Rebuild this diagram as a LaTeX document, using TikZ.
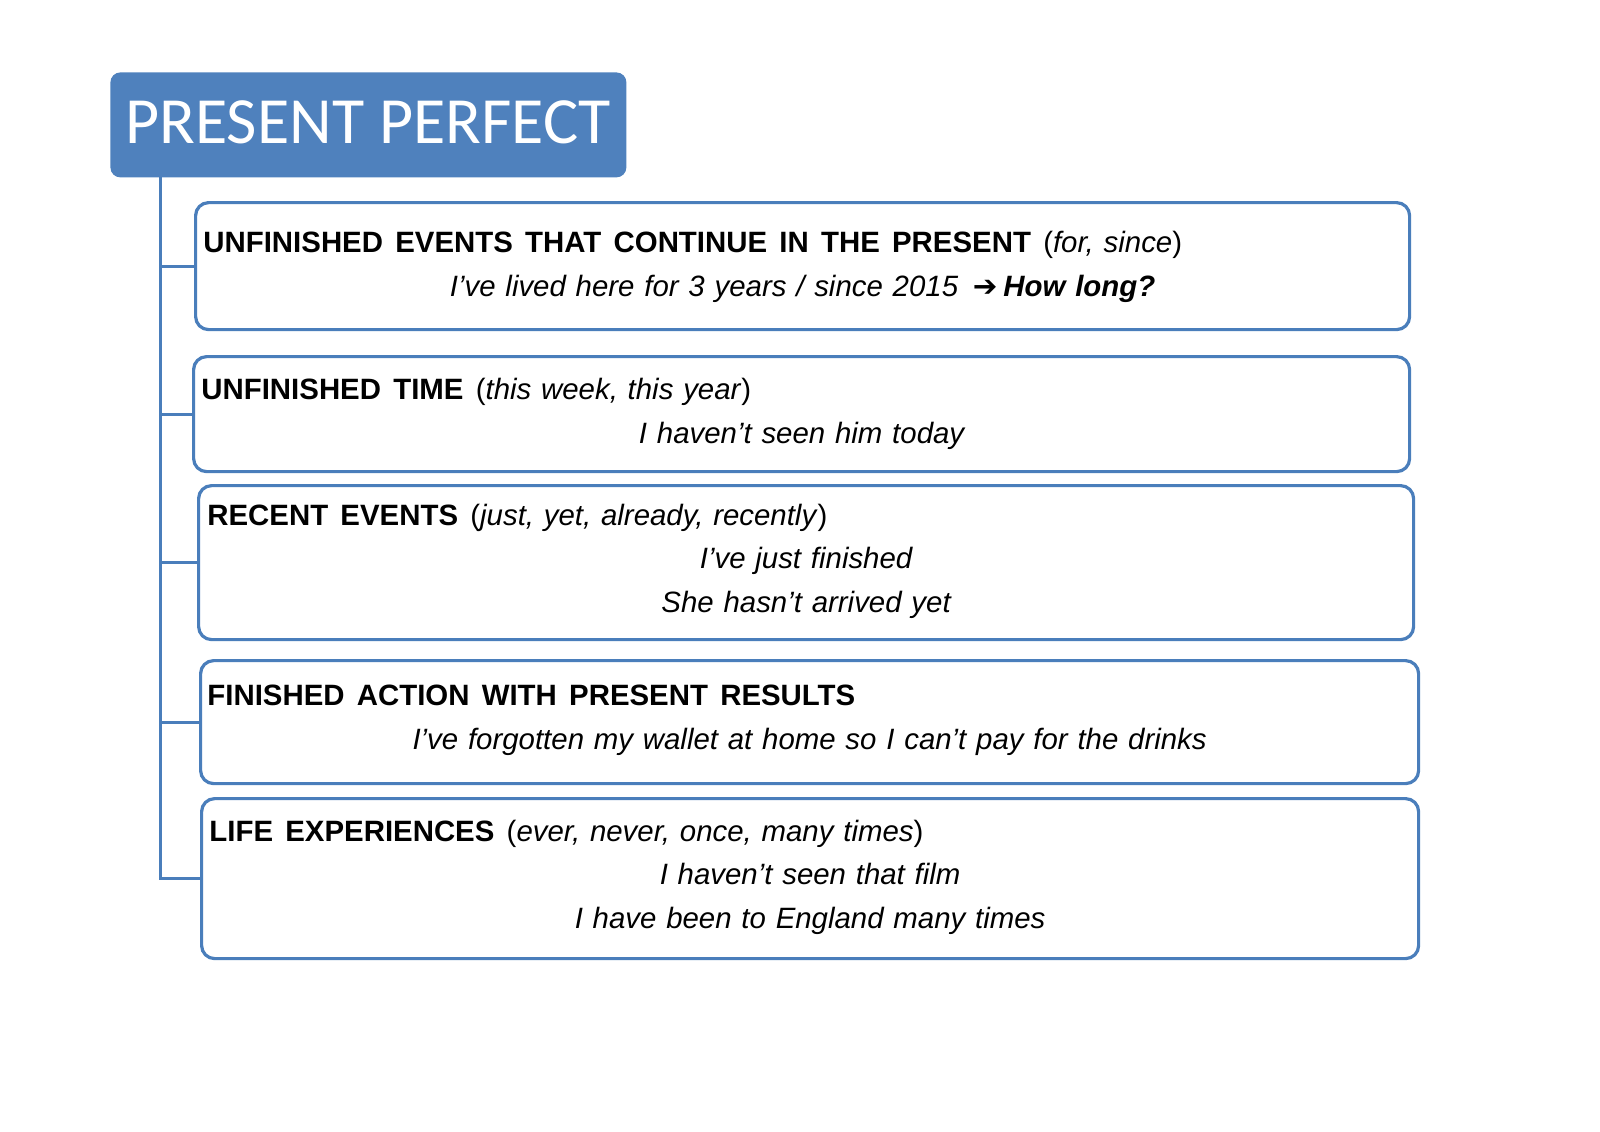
\documentclass[tikz,border=0pt]{standalone}
\usepackage{fontspec}
\setmainfont{Liberation Sans}[WordSpace=1.5, ItalicFeatures={WordSpace=1.2}, BoldItalicFeatures={WordSpace=1.2}]
\newfontfamily\titlefont{Carlito}
\newfontfamily\symfont{DejaVu Sans}
\definecolor{pblue}{HTML}{4F81BD}
\definecolor{bline}{HTML}{4A7EBB}
\tikzset{
  catbox/.style={draw=bline, line width=1.6pt, rounded corners=6.5pt, fill=white, inner sep=0pt, anchor=north west},
  conn/.style={draw=bline, line width=1.5pt},
  head/.style={anchor=base west, inner sep=0pt, font=\fontsize{14.7pt}{16pt}\selectfont},
  example/.style={anchor=base, inner sep=0pt, font=\fontsize{14.7pt}{16pt}\selectfont\itshape},
}
\begin{document}
\begin{tikzpicture}[x=0.5pt, y=-0.5pt]
\useasboundingbox (0,0) rectangle (1600,1131);
% title
\node[fill=pblue, rounded corners=5pt, inner sep=0pt, minimum width=258pt, minimum height=52.5pt, anchor=north west] (title) at (110,72) {};
\node[anchor=base west, inner sep=0pt, text=white, font=\titlefont\fontsize{33pt}{38pt}\selectfont] (titletext) at (125,143) {PRESENT PERFECT};
% boxes
\node[catbox, minimum width=607pt, minimum height=63.5pt] (b1) at (194,201) {};
\node[catbox, minimum width=608pt, minimum height=57.5pt] (b2) at (192,355) {};
\node[catbox, minimum width=607.5pt, minimum height=77pt] (b3) at (197,484) {};
\node[catbox, minimum width=609pt, minimum height=61.5pt] (b4) at (199,659) {};
\node[catbox, minimum width=608.5pt, minimum height=80pt] (b5) at (200,797) {};
% connectors
\coordinate (sp) at (160,177);
\draw[conn] (sp) |- (b5.west);
\draw[conn] (sp |- b1.west) -- (b1.west);
\draw[conn] (sp |- b2.west) -- (b2.west);
\draw[conn] (sp |- b3.west) -- (b3.west);
\draw[conn] (sp |- b4.west) -- (b4.west);
% texts
\node[head] (h1) at (203,252) {\textbf{UNFINISHED EVENTS THAT CONTINUE IN THE PRESENT} (\textit{for, since})};
\node[example] (e1) at (b1.center |- 0,296) {I’ve lived here for 3 years / since 2015\hspace{0.5em}{\symfont\upshape\bfseries ➔}\hspace{0.2em}\textbf{How long?}};
\node[head] (h2) at (201,399) {\textbf{UNFINISHED TIME} (\textit{this week, this year})};
\node[example] (e2) at (b2.center |- 0,443) {I haven’t seen him today};
\node[head] (h3) at (207,525) {\textbf{RECENT EVENTS} (\textit{just, yet, already, recently})};
\node[example] (e3a) at (b3.center |- 0,568) {I’ve just finished};
\node[example] (e3b) at (b3.center |- 0,612) {She hasn’t arrived yet};
\node[head] (h4) at (207,705) {\textbf{FINISHED ACTION WITH PRESENT RESULTS}};
\node[example] (e4) at (b4.center |- 0,749) {I’ve forgotten my wallet at home so I can’t pay for the drinks};
\node[head] (h5) at (209,841) {\textbf{LIFE EXPERIENCES} (\textit{ever, never, once, many times})};
\node[example] (e5a) at (b5.center |- 0,884) {I haven’t seen that film};
\node[example] (e5b) at (b5.center |- 0,928) {I have been to England many times};
\end{tikzpicture}
\end{document}
